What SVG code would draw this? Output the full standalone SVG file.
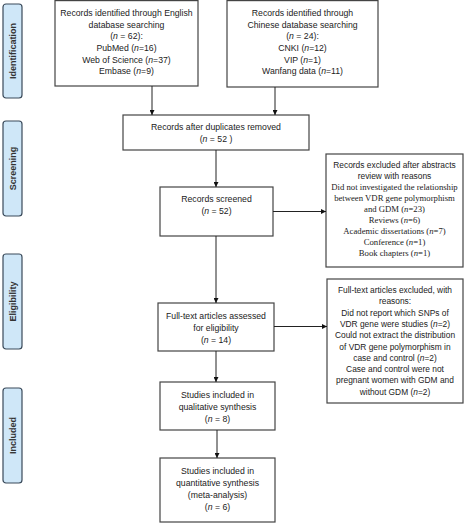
<svg xmlns="http://www.w3.org/2000/svg" width="474" height="523" viewBox="0 0 474 523">
<style>
.box{fill:#fff;stroke:#444;stroke-width:1.2}
.side{fill:#cfe7f8;stroke:#3a4a5a;stroke-width:1.2}
.sl{font-family:"Liberation Sans",Arial,sans-serif;font-size:9px;font-weight:bold;fill:#333;text-anchor:middle}
.t{font-family:"Liberation Sans",Arial,sans-serif;font-size:8.7px;fill:#222;text-anchor:middle}
.n{font-size:8.4px}
.s{font-family:"Liberation Serif","Times New Roman",serif;font-size:8.7px;fill:#222;text-anchor:middle}
.c{stroke:#222;stroke-width:1;fill:none;marker-end:url(#ah)}
.i{font-style:italic}
</style>
<defs>
<marker id="ah" viewBox="0 0 10 10" refX="10" refY="5" markerWidth="5" markerHeight="5" orient="auto" markerUnits="userSpaceOnUse">
<path d="M0,0 L10,5 L0,10 z" fill="#111"/>
</marker>
</defs>
<rect width="474" height="523" fill="#fff"/>
<g id="side-identification"><rect class="side" x="3" y="4" width="19" height="94" rx="3"/><text class="sl" transform="translate(15.5,51) rotate(-90)">Identification</text></g>
<g id="side-screening"><rect class="side" x="3" y="121" width="19" height="95" rx="3"/><text class="sl" transform="translate(15.5,168.5) rotate(-90)">Screening</text></g>
<g id="side-eligibility"><rect class="side" x="3" y="254" width="19" height="95" rx="3"/><text class="sl" transform="translate(15.5,301.5) rotate(-90)">Eligibility</text></g>
<g id="side-included"><rect class="side" x="3" y="388" width="19" height="95" rx="3"/><text class="sl" transform="translate(15.5,435.5) rotate(-90)">Included</text></g>

<g id="english">
<rect class="box" x="55" y="0.6" width="143" height="85.4"/>
<text class="t" x="126.5" y="16">Records identified through English</text>
<text class="t" x="126.5" y="27.5">database searching</text>
<text class="t" x="126.5" y="39">(<tspan class="i">n</tspan> = 62):</text>
<text class="t" x="126.5" y="51">PubMed (<tspan class="i">n</tspan>=16)</text>
<text class="t" x="126.5" y="62.5">Web of Science (<tspan class="i">n</tspan>=37)</text>
<text class="t" x="126.5" y="74">Embase (<tspan class="i">n</tspan>=9)</text>
</g>
<g id="chinese">
<rect class="box" x="227" y="0.6" width="151" height="86.4"/>
<text class="t" x="302.5" y="16">Records identified through</text>
<text class="t" x="302.5" y="27.5">Chinese database searching</text>
<text class="t" x="302.5" y="39">(<tspan class="i">n</tspan> = 24):</text>
<text class="t" x="302.5" y="51">CNKI (<tspan class="i">n</tspan>=12)</text>
<text class="t" x="302.5" y="62.5">VIP (<tspan class="i">n</tspan>=1)</text>
<text class="t" x="302.5" y="74">Wanfang data (<tspan class="i">n</tspan>=11)</text>
</g>
<g id="duplicates">
<rect class="box" x="123" y="115" width="186" height="35"/>
<text class="t" x="216" y="130">Records after duplicates removed</text>
<text class="t" x="216" y="142">(<tspan class="i">n</tspan> = 52  )</text>
</g>
<g id="screened">
<rect class="box" x="160" y="187" width="113" height="49"/>
<text class="t" x="216.5" y="202">Records screened</text>
<text class="t" x="216.5" y="214">(<tspan class="i">n</tspan> = 52)</text>
</g>
<g id="excluded-abstracts">
<rect class="box" x="326" y="154" width="137" height="113"/>
<text class="t n" x="394.5" y="168">Records excluded after abstracts</text>
<text class="t n" x="394.5" y="179">review with reasons</text>
<text class="s" x="394.5" y="190">Did not investigated the relationship</text>
<text class="s" x="394.5" y="201">between VDR gene polymorphism</text>
<text class="s" x="394.5" y="212">and GDM (<tspan class="i">n</tspan>=23)</text>
<text class="s" x="394.5" y="223">Reviews (<tspan class="i">n</tspan>=6)</text>
<text class="s" x="394.5" y="234">Academic dissertations (<tspan class="i">n</tspan>=7)</text>
<text class="s" x="394.5" y="245">Conference (<tspan class="i">n</tspan>=1)</text>
<text class="s" x="394.5" y="256">Book chapters (<tspan class="i">n</tspan>=1)</text>
</g>
<g id="fulltext">
<rect class="box" x="158" y="303" width="116" height="48"/>
<text class="t" x="216" y="319">Full-text articles assessed</text>
<text class="t" x="216" y="331">for eligibility</text>
<text class="t" x="216" y="343">(<tspan class="i">n</tspan> = 14)</text>
</g>
<g id="excluded-fulltext">
<rect class="box" x="327" y="279" width="136" height="124"/>
<text class="t n" x="395" y="293">Full-text articles excluded, with</text>
<text class="t n" x="395" y="304.3">reasons:</text>
<text class="t n" x="395" y="315.6">Did not report which SNPs of</text>
<text class="t n" x="395" y="326.9">VDR gene were studies (<tspan class="i">n</tspan>=2)</text>
<text class="t n" x="395" y="338.2">Could not extract the distribution</text>
<text class="t n" x="395" y="349.5">of VDR gene polymorphism in</text>
<text class="t n" x="395" y="360.8">case and control (<tspan class="i">n</tspan>=2)</text>
<text class="t n" x="395" y="372.1">Case and control were not</text>
<text class="t n" x="395" y="383.4">pregnant women with GDM and</text>
<text class="t n" x="395" y="394.7">without GDM (<tspan class="i">n</tspan>=2)</text>
</g>
<g id="qualitative">
<rect class="box" x="160" y="382" width="115" height="48"/>
<text class="t" x="217.5" y="398">Studies included in</text>
<text class="t" x="217.5" y="410">qualitative synthesis</text>
<text class="t" x="217.5" y="422">(<tspan class="i">n</tspan> = 8)</text>
</g>
<g id="quantitative">
<rect class="box" x="160" y="458" width="115" height="64"/>
<text class="t" x="217.5" y="474">Studies included in</text>
<text class="t" x="217.5" y="486">quantitative synthesis</text>
<text class="t" x="217.5" y="498">(meta-analysis)</text>
<text class="t" x="217.5" y="510">(<tspan class="i">n</tspan> = 6)</text>
</g>

<g id="connectors">
<path class="c" d="M152,86 V115"/>
<path class="c" d="M275,87 V115"/>
<path class="c" d="M216,150 V187"/>
<path class="c" d="M273,211.5 H326"/>
<path class="c" d="M216,236 V303"/>
<path class="c" d="M274,326.5 H327"/>
<path class="c" d="M216,351 V382"/>
<path class="c" d="M217,430 V458"/>
</g>
</svg>
